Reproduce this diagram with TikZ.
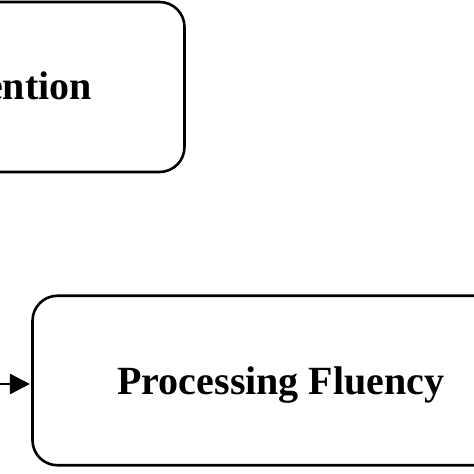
\documentclass[tikz,border=0pt]{standalone}
\usepackage{fontspec}
\setmainfont{Liberation Serif}
\usetikzlibrary{arrows.meta}
\begin{document}
\begin{tikzpicture}[x=1pt,y=1pt,
          box/.style={
              draw,
              line width=2.6pt,
              rounded corners=25pt
            },label text/.style={
              font=\bfseries\fontsize{40}{48}\selectfont,
              inner sep=0pt
            }
        ]

        % 描画範囲
        \useasboundingbox (0,0) rectangle (474,-474);
        \clip (0,0) rectangle (474,-474);

        % 上の箱
        \node[
          box,
          minimum width=385pt,
          minimum height=170pt
        ] (attention) at (-8,-87) {};
        \node[label text,anchor=base east] (attention_text) at (92,-99) {ention};

        % 下の箱
        \node[
          box,
          minimum width=497pt,
          minimum height=169.5pt
        ] (fluency) at (281,-380.5) {};
        \node[label text,anchor=base] (fluency_text) at (281,-394) {Processing Fluency};

        % 矢印
        \coordinate (from_left) at (-10,-384);
        \draw[
          line width=2.8pt,
          -{Triangle[length=20pt,width=20pt]}
        ] (from_left) -- ([xshift=-1.3pt]from_left -| fluency.west);

      \end{tikzpicture}
\end{document}
